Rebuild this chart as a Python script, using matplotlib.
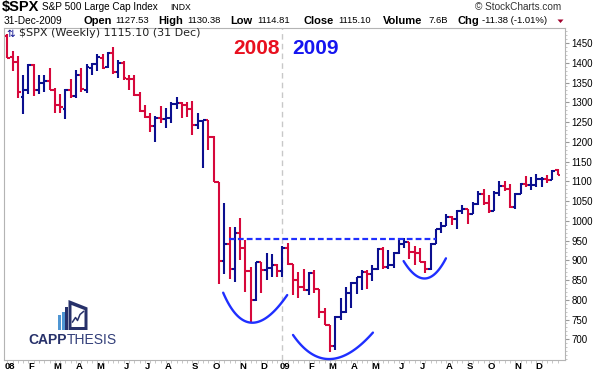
import matplotlib
matplotlib.use("Agg")
import matplotlib.pyplot as plt
import numpy as np
from matplotlib.patches import Polygon, Rectangle

# ---- weekly OHLC, $SPX, week ending dates ----
prev_close = 1468
opens = [1468, 1414, 1402, 1313, 1331, 1395, 1331, 1350, 1353, 1331, 1293, 1283, 1330,
         1316, 1370, 1332, 1388, 1397, 1413, 1389, 1425, 1376, 1400, 1360, 1360, 1318,
         1278, 1262, 1239, 1261, 1257, 1260, 1296, 1298, 1292, 1283, 1242, 1252, 1255,
         1213, 1099, 899, 941, 877, 969, 931, 873, 800, 896, 876, 880, 888, 873,
         932, 890, 850, 832, 826, 869, 827, 770, 735, 683, 757, 769, 816, 843, 857,
         870, 866, 878, 929, 883, 887, 919, 940, 946, 921, 919, 896, 879, 940, 979,
         987, 1010, 1004, 1026, 1029, 1016, 1043, 1068, 1044, 1025, 1071, 1088, 1080,
         1036, 1069, 1093, 1091, 1091, 1106, 1106, 1102, 1128]
highs = [1472, 1430, 1417, 1368, 1396, 1397, 1368, 1368, 1388, 1336, 1322, 1334, 1360,
         1381, 1386, 1396, 1400, 1423, 1422, 1426, 1440, 1406, 1404, 1370, 1370, 1325,
         1292, 1273, 1266, 1291, 1285, 1300, 1313, 1300, 1301, 1303, 1274, 1255, 1255,
         1215, 1099, 1044, 985, 984, 1008, 952, 882, 896, 896, 919, 915, 890, 935,
         944, 890, 871, 878, 871, 875, 827, 780, 735, 758, 804, 833, 846, 857, 876,
         875, 889, 930, 933, 925, 920, 951, 956, 946, 935, 931, 898, 944, 979, 997,
         1018, 1013, 1028, 1039, 1029, 1048, 1075, 1080, 1065, 1075, 1101, 1101, 1094,
         1071, 1096, 1114, 1111, 1119, 1110, 1117, 1129, 1130]
lows = [1411, 1378, 1312, 1270, 1322, 1317, 1321, 1326, 1330, 1273, 1273, 1257, 1312,
        1312, 1326, 1324, 1370, 1379, 1384, 1386, 1371, 1362, 1357, 1331, 1317, 1275,
        1260, 1225, 1200, 1248, 1234, 1247, 1282, 1261, 1263, 1217, 1232, 1134, 1179,
        1098, 840, 866, 853, 845, 900, 819, 741, 798, 816, 851, 857, 857, 857,
        888, 812, 804, 822, 813, 818, 754, 735, 667, 673, 749, 766, 779, 814, 826,
        827, 847, 875, 879, 879, 880, 915, 930, 903, 889, 896, 869, 875, 940, 968,
        987, 990, 979, 1016, 992, 1016, 1039, 1041, 1020, 1025, 1063, 1075, 1033,
        1029, 1069, 1085, 1079, 1086, 1086, 1095, 1102, 1115]
closes = [1412, 1401, 1325, 1331, 1395, 1331, 1350, 1353, 1331, 1293, 1288, 1330, 1315,
          1370, 1333, 1390, 1398, 1414, 1388, 1425, 1376, 1400, 1361, 1360, 1318, 1278,
          1263, 1239, 1261, 1258, 1260, 1296, 1298, 1292, 1283, 1242, 1252, 1255, 1213,
          1099, 899, 941, 877, 969, 931, 873, 800, 896, 876, 880, 888, 873, 932,
          890, 850, 832, 826, 869, 827, 770, 735, 683, 757, 769, 816, 843, 857, 870,
          866, 878, 929, 883, 887, 919, 940, 946, 921, 919, 896, 879, 940, 979, 987,
          1010, 1004, 1026, 1029, 1016, 1043, 1068, 1044, 1025, 1071, 1088, 1080, 1036,
          1069, 1093, 1091, 1091.5, 1106, 1106.4, 1102, 1126, 1115]

month_labels = ['08', 'F', 'M', 'A', 'M', 'J', 'J', 'A', 'S', 'O', 'N', 'D',
                '09', 'F', 'M', 'A', 'M', 'J', 'J', 'A', 'S', 'O', 'N', 'D']
month_weeks = [0, 4, 9, 13, 17, 22, 26, 30, 35, 39, 44, 48,
               52, 57, 61, 65, 69, 74, 78, 83, 87, 91, 96, 100]

resistance = 953
resistance_span = (41.9, 81.0)
year_break = 52
# hand-drawn cups: start, bottom, end  (week, price)
cups = [[(40.8, 818), (46.2, 742), (52.9, 812)],
        [(54.0, 711), (61.0, 650), (69.1, 717)],
        [(74.9, 898), (79.0, 854), (82.9, 905)]]

UP = '#0b0f8f'
DOWN = '#d6083b'
CUP = '#1f2fff'

W, H = 595, 373
fig = plt.figure(figsize=(W / 100, H / 100), dpi=100)
fig.patch.set_facecolor('white')

ax = fig.add_axes([4 / W, (H - 360) / H, (565 - 4) / W, (360 - 28) / H])
idx = np.arange(len(closes))
prev = np.r_[prev_close, closes[:-1]]
cols = [UP if c > p else DOWN for c, p in zip(closes, prev)]

ax.vlines(idx, lows, highs, colors=cols, lw=1.5, zorder=3)
ax.hlines(opens, idx - 0.5, idx, colors=cols, lw=1.5, zorder=3)
ax.hlines(closes, idx, idx + 0.5, colors=cols, lw=1.5, zorder=3)

ax.axvline(year_break, color='#c8c8c8', lw=1, ls=(0, (4, 3)), zorder=1)
ax.hlines(resistance, *resistance_span, color=CUP, lw=1.6, ls=(0, (2.6, 1.4)), zorder=4)

for p0, b, p2 in cups:
    p0, b, p2 = np.array(p0), np.array(b), np.array(p2)
    c = 2 * b - (p0 + p2) / 2
    t = np.linspace(0, 1, 60)[:, None]
    pts = (1 - t) ** 2 * p0 + 2 * (1 - t) * t * c + t ** 2 * p2
    ax.plot(pts[:, 0], pts[:, 1], color=CUP, lw=1.7, zorder=4, clip_on=False,
            solid_capstyle='round')

ax.set_xlim(-0.62, 105.4)
ax.set_ylim(647.6, 1488)
ax.yaxis.tick_right()
ax.set_yticks(np.arange(700, 1451, 50))
ax.set_yticks(np.arange(650, 1490, 10), minor=True)
ax.tick_params(axis='y', which='major', length=3, color='#999999', labelsize=7, pad=1.5)
ax.tick_params(axis='y', which='minor', length=1.5, color='#bbbbbb')
for lab in ax.get_yticklabels():
    lab.set_fontfamily('Liberation Sans')

ax.set_xticks([w + 0.5 for w in month_weeks])
ax.set_xticklabels(month_labels)
ax.set_xticks(idx, minor=True)
ax.tick_params(axis='x', which='major', length=0, labelsize=6.8, pad=1.5)
ax.tick_params(axis='x', which='minor', length=2, color='#bbbbbb')
for lab in ax.get_xticklabels():
    lab.set_fontfamily('Liberation Sans')
    lab.set_fontweight('bold')
for s in ax.spines.values():
    s.set_color('#b4b4b4')
    s.set_linewidth(0.8)

# ---- overlay in pixel coordinates for header and logo ----
ov = fig.add_axes([0, 0, 1, 1], zorder=10)
ov.set_xlim(0, W)
ov.set_ylim(H, 0)
ov.axis('off')
ov.patch.set_alpha(0)

LS = 'Liberation Sans'
ov.text(2, 7, '$SPX', fontsize=10.5, fontweight='bold', family=LS, va='center')
ov.text(42, 7.5, 'S&P 500 Large Cap Index', fontsize=7.2, family=LS, va='center')
ov.text(170, 7.8, 'INDX', fontsize=6.2, family=LS, va='center')
ov.text(475, 7, '\u00a9 StockCharts.com', fontsize=7.2, family=LS, va='center', color='#333333')

ov.text(4, 20.5, '31-Dec-2009', fontsize=7.3, family=LS, va='center')
row = [(83, 'Open', True), (115, '1127.53', False), (158, 'High', True), (187, '1130.38', False),
       (230, 'Low', True), (257, '1114.81', False), (303, 'Close', True), (338, '1115.10', False),
       (383, 'Volume', True), (428, '7.6B', False), (457, 'Chg', True),
       (482, '-11.38 (-1.01%)', False)]
for x, s, b in row:
    ov.text(x, 20.5, s, fontsize=8 if b else 6.8, fontweight='bold' if b else 'normal',
            family=LS, va='center')
ov.add_patch(Polygon([[557.5, 19.5], [563.5, 19.5], [560.5, 23]], closed=True,
                     color='#a0002c', lw=0))

ov.text(6.5, 33.5, '\u21c5', fontsize=7.5, color=UP, va='center', family='DejaVu Sans')
ov.text(19, 33.5, '$SPX (Weekly) 1115.10 (31 Dec)', fontsize=8, va='center',
        family='DejaVu Sans', color='#222222')

ov.text(256, 49, '2008', fontsize=15, fontweight='bold', color='#e8101f', family=LS,
        ha='center', va='center')
ov.text(315.5, 49, '2009', fontsize=15, fontweight='bold', color='#1515f0', family=LS,
        ha='center', va='center')

# CAPPTHESIS logo
NAVY = '#27316a'
LBLUE = '#4f96d3'
ov.add_patch(Rectangle((58.3, 315), 2.7, 15, color=LBLUE, lw=0))
ov.add_patch(Rectangle((61.8, 311.5), 2.7, 18.5, color=LBLUE, lw=0))
ov.add_patch(Rectangle((65.2, 306.5), 2.7, 23.5, color=NAVY, lw=0))
ov.add_patch(Polygon([[68.5, 300], [87.5, 307.5], [87.5, 330], [68.5, 330]], closed=True,
                     color=NAVY, lw=0))
ov.add_patch(Polygon([[71.5, 305], [84.5, 310], [84.5, 327], [71.5, 327]], closed=True,
                     color='white', lw=0))
ov.plot([72.5, 75.5, 77.5, 80, 83.5], [322, 317.5, 320.5, 314.5, 311.5], color=NAVY, lw=1.1)
ov.text(28.3, 340.5, 'CAPP', fontsize=10, fontweight='bold', color=NAVY, family=LS, va='center')
ov.text(66.3, 340.5, 'THESIS', fontsize=10, color='#34407a', family=LS, va='center')

fig.savefig('out.png', dpi=100, facecolor='white')
